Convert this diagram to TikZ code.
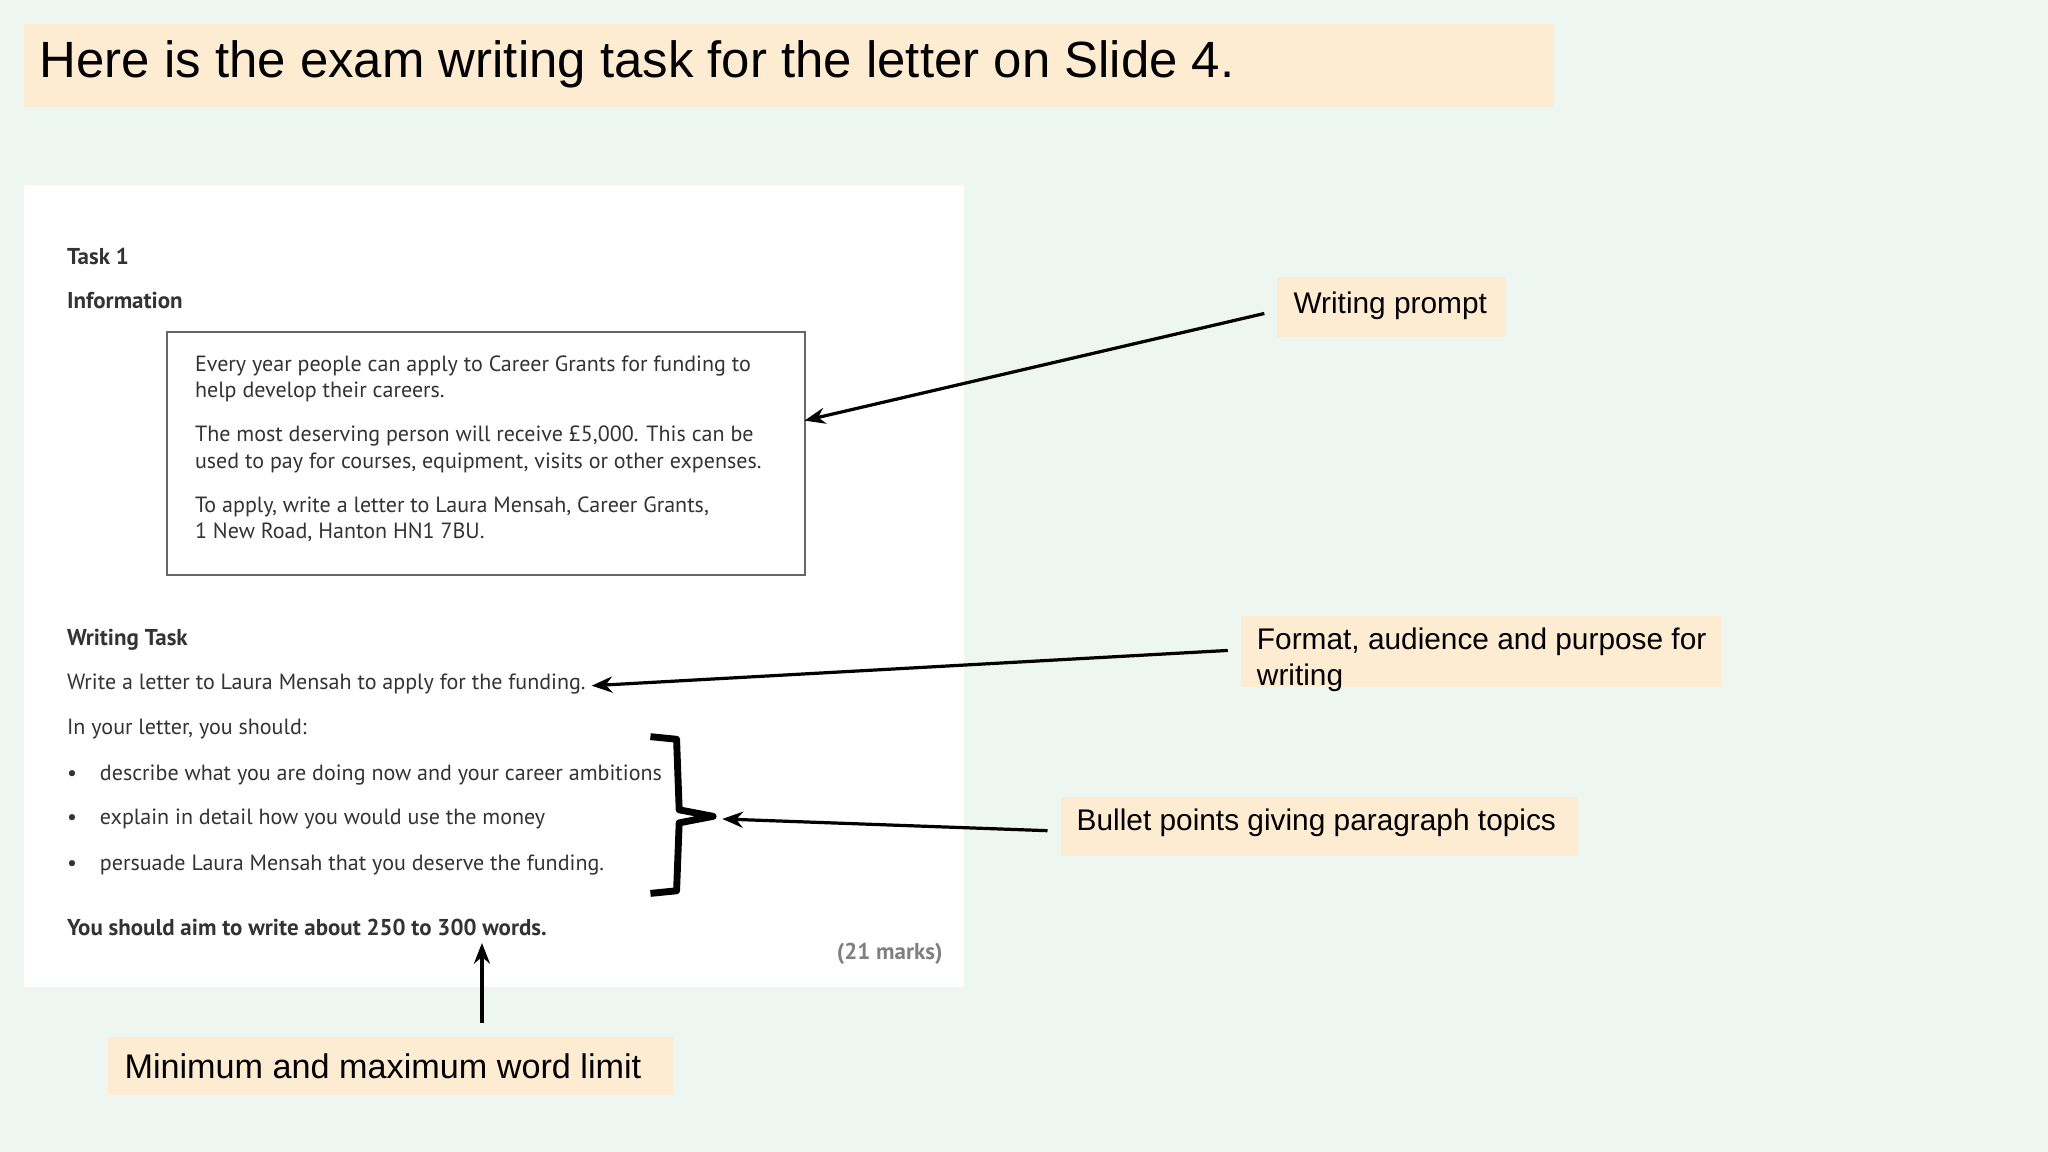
\documentclass[tikz,border=0pt]{standalone}
\usepackage{fontspec}
\setmainfont{Liberation Sans}
\newfontfamily\docfont{PT Sans}
\usetikzlibrary{arrows.meta}
\definecolor{bg}{HTML}{EEF6F2}
\definecolor{peach}{HTML}{FDEBD2}
\definecolor{doctext}{HTML}{333333}
\tikzset{
  dtxt/.style={anchor=west,inner sep=0pt,font=\docfont\fontsize{9.6}{11.4}\selectfont,text=doctext},
  dbold/.style={dtxt,font=\docfont\bfseries\fontsize{10}{12}\selectfont},
  ann/.style={anchor=west,inner sep=0pt,font=\fontsize{13}{16}\selectfont},
  arr/.style={-{Stealth[length=9pt,width=7pt]},line width=1.4pt}
}
\begin{document}
\begin{tikzpicture}[x=0.02cm,y=-0.02cm]
\fill[bg] (0,0) rectangle (1568,882);
\useasboundingbox (0,0) rectangle (1568,882);
% title
\fill[peach] (18,18) rectangle (1190,82);
\node[anchor=west,inner sep=0pt,font=\fontsize{22.2}{26}\selectfont] (title) at (30,49) {Here is the exam writing task for the letter on Slide 4.};
% panel
\fill[white] (18,142) rectangle (738,756);
\node[dbold] (t1) at (51,196) {Task 1};
\node[dbold] (inf) at (51,230) {Information};
\draw[line width=0.8pt,draw=gray!80!black] (128,254) rectangle (616,440);
\coordinate (boxr) at (616,322);
\node[dtxt,anchor=north west,align=left] (p1) at (149,272) {Every year people can apply to Career Grants for funding to\\help develop their careers.};
\node[dtxt,anchor=north west,align=left] (p2) at (149,326) {The most deserving person will receive £5,000. This can be\\used to pay for courses, equipment, visits or other expenses.};
\node[dtxt,anchor=north west,align=left] (p3) at (149,380) {To apply, write a letter to Laura Mensah, Career Grants,\\1 New Road, Hanton HN1 7BU.};
\node[dbold] (wt) at (51,490) {Writing Task};
\node[dtxt] (w1) at (51,524) {Write a letter to Laura Mensah to apply for the funding.};
\node[dtxt] (w2) at (51,558) {In your letter, you should:};
\node[dtxt] (b1) at (51,593) {•\hspace{10pt}describe what you are doing now and your career ambitions};
\node[dtxt] (b2) at (51,627) {•\hspace{10pt}explain in detail how you would use the money};
\node[dtxt] (b3) at (51,662) {•\hspace{10pt}persuade Laura Mensah that you deserve the funding.};
\node[dbold] (aim) at (51,710) {You should aim to write about 250 to 300 words.};
\node[dbold,anchor=east,text=gray] (marks) at (722,730) {(21 marks)};
% brace
\draw[line width=3pt,line join=round] (498,564) -- (518,566) -- (520,620) -- (546,625) -- (520,630) -- (518,682) -- (498,684);
\coordinate (bracetip) at (553,627);
% labels
\fill[peach] (978,212) rectangle (1153,258);
\node[ann] (l1) at (990,234) {Writing prompt};
\coordinate (l1a) at (968,240);
\fill[peach] (950,472) rectangle (1318,526);
\node[ann,anchor=north west,align=left] (l2) at (962,480) {Format, audience and purpose for\\writing};
\coordinate (l2a) at (940,498);
\coordinate (w1e) at (453,525);
\fill[peach] (812,610) rectangle (1208,655);
\node[ann] (l3) at (824,630) {Bullet points giving paragraph topics};
\coordinate (l3a) at (802,636);
\fill[peach] (83,794) rectangle (515,838);
\node[ann,font=\fontsize{14.9}{18}\selectfont] (l4) at (95,816) {Minimum and maximum word limit};
\coordinate (l4a) at (369,783);
\coordinate (aimb) at (369,722);
\draw[arr] (l1a) -- (boxr);
\draw[arr] (l2a) -- (w1e);
\draw[arr] (l3a) -- (bracetip);
\draw[arr] (l4a) -- (aimb);
\end{tikzpicture}
\end{document}
